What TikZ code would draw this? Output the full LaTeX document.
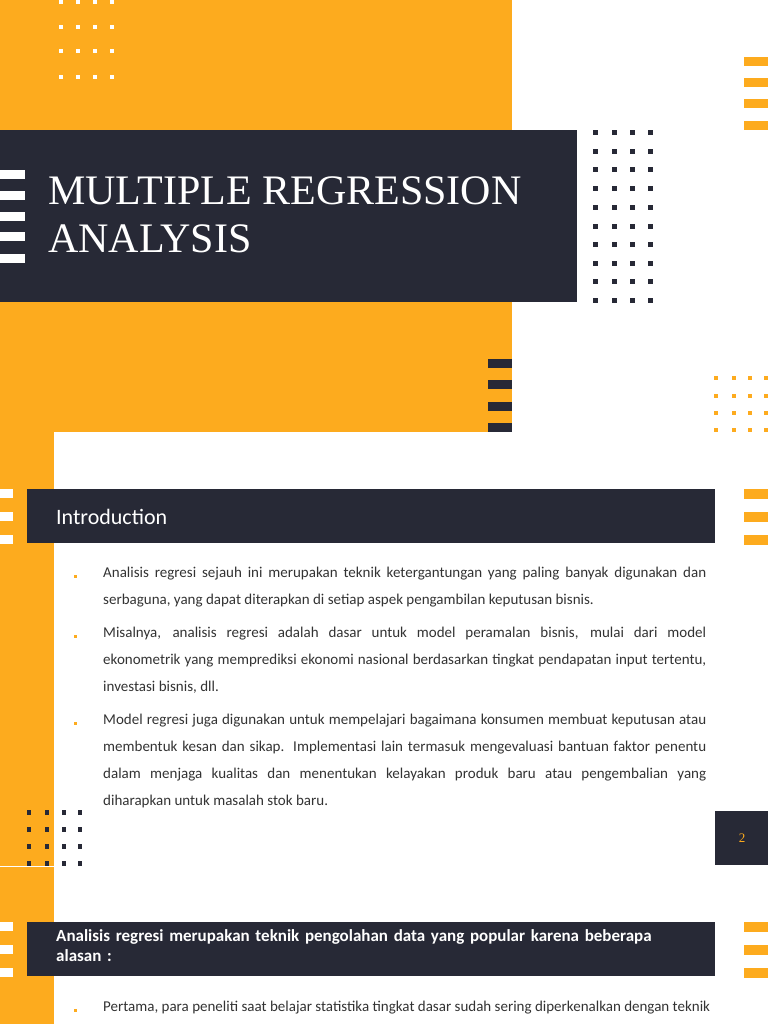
\documentclass[tikz,border=0pt]{standalone}
\usepackage{fontspec}
\setmainfont{Carlito}
\newfontfamily\titlefont{Liberation Serif}
\definecolor{org}{HTML}{FDAB1E}
\definecolor{drk}{HTML}{272936}
\begin{document}
\begin{tikzpicture}[x=1pt,y=-1pt,
  bodytext/.style={anchor=north west,inner sep=0pt,text width=603pt,align=justify,font=\fontsize{15}{27}\selectfont,text=black!80},
  ttl/.style={anchor=base west,inner sep=0pt,text=white,font=\titlefont\fontsize{42}{48}\selectfont}]
\useasboundingbox (0,0) rectangle (768,1024);
\fill[white] (0,0) rectangle (768,1024);
% orange blocks
\fill[org] (0,0) rectangle (512,432);
\fill[org] (0,432) rectangle (54,1024);
\draw[white,line width=1pt] (0,866) -- (54,866);
% top white dots
\foreach \x in {59,76,93,110}\foreach \y in {0,25,49,75}{\fill[white] (\x,\y) rectangle ++(4,4);}
% title band
\fill[drk] (0,130) rectangle (577,302);
\foreach \y in {170,191,212,232,254}{\fill[white] (0,\y) rectangle (25,\y+9);}
\node[ttl] (title1) at (48,205) {MULTIPLE REGRESSION};
\node[ttl] (title2) at (48,252) {ANALYSIS};
% dark dots
\foreach \x in {593,612,630,648}\foreach \y in {130,149,167,186,205,224,242,261,279,298}{\fill[drk] (\x,\y) rectangle ++(5,5);}
% orange bars top right
\foreach \y in {57,78,99,121}{\fill[org] (744,\y) rectangle (768,\y+9);}
% dark bars
\foreach \y in {359,380,402,423}{\fill[drk] (488,\y) rectangle (512,\y+9);}
% orange dots right
\foreach \x in {714,732,748,764}\foreach \y in {376,394,411,428}{\fill[org] (\x,\y) rectangle ++(4,4);}
% intro band
\fill[drk] (27,489) rectangle (715,543);
\node[anchor=base west,inner sep=0pt,text=white,font=\fontsize{22}{26}\selectfont] (intro) at (56,524) {Introduction};
\foreach \y in {489,512,535}{\fill[white] (0,\y) rectangle (13,\y+9); \fill[org] (744,\y) rectangle (768,\y+10);}
% bullets
\foreach \y in {578,638,725}{\fill[org] (74,\y-3) rectangle ++(3,3);}
\node[bodytext] (b1) at (103,567) {Analisis regresi sejauh ini merupakan teknik ketergantungan yang paling banyak digunakan dan\linebreak serbaguna, yang dapat diterapkan di setiap aspek pengambilan keputusan bisnis.};
\node[bodytext] (b2) at (103,627) {Misalnya, analisis regresi adalah dasar untuk model peramalan bisnis, mulai dari model\linebreak ekonometrik yang memprediksi ekonomi nasional berdasarkan tingkat pendapatan input tertentu,\linebreak investasi bisnis, dll.};
\node[bodytext] (b3) at (103,714) {Model regresi juga digunakan untuk mempelajari bagaimana konsumen membuat keputusan atau\linebreak membentuk kesan dan sikap. Implementasi lain termasuk mengevaluasi bantuan faktor penentu\linebreak dalam menjaga kualitas dan menentukan kelayakan produk baru atau pengembalian yang\linebreak diharapkan untuk masalah stok baru.};
% dark dots lower left
\foreach \x in {27,45,62,78}\foreach \y in {810,827,844,861}{\fill[drk] (\x,\y) rectangle ++(4,5);}
% page number
\fill[drk] (715,811) rectangle (768,865);
\node[text=org,font=\titlefont\fontsize{13}{15}\selectfont] (pg) at (742,838) {2};
% second band
\fill[drk] (27,922) rectangle (715,976);
\node[anchor=north west,inner sep=0pt,text=white,text width=660pt,align=left,font=\bfseries\fontsize{17}{20}\selectfont] (h2) at (56,929) {Analisis regresi merupakan teknik pengolahan data yang popular karena beberapa\\alasan :};
\foreach \y in {922,945,968}{\fill[white] (0,\y) rectangle (13,\y+9); \fill[org] (744,\y) rectangle (768,\y+10);}
\fill[org] (74,1009) rectangle ++(3,3);
\node[anchor=north west,inner sep=0pt,font=\fontsize{15}{27}\selectfont,text=black!80] (b4) at (103,1001) {Pertama, para peneliti saat belajar statistika tingkat dasar sudah sering diperkenalkan dengan teknik};
\end{tikzpicture}
\end{document}
